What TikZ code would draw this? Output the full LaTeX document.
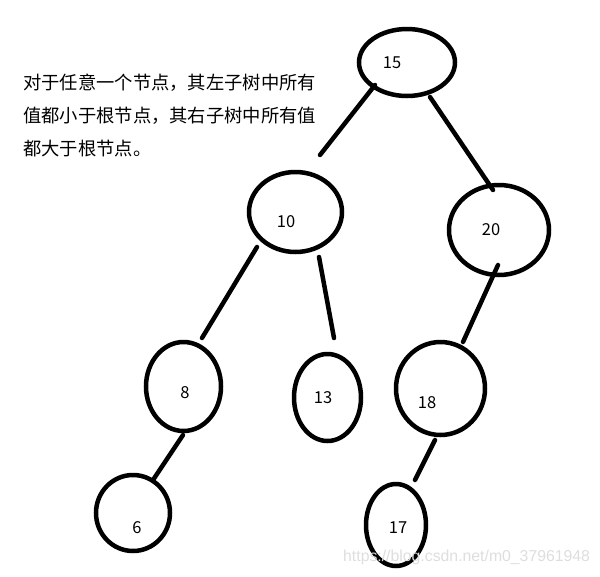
\documentclass[tikz,border=0pt]{standalone}
\usepackage{fontspec}
\usetikzlibrary{shapes.geometric}
\newfontfamily\cjk{Noto Sans CJK SC}
\newfontfamily\wmfont{Liberation Sans}
\begin{document}
\begin{tikzpicture}[x=1pt,y=-1pt,
  treenode/.style={ellipse,draw,line width=4.5pt,inner sep=0pt,outer sep=0pt},
  numlabel/.style={font=\cjk\fontsize{16.5}{18}\selectfont,inner sep=0pt},
  edge/.style={line width=4.5pt,line cap=round},
  note/.style={font=\cjk\fontsize{18.3}{22}\selectfont,anchor=west,inner sep=0pt},
  wm/.style={font=\wmfont\fontsize{15.8}{18}\selectfont,text=black!13,anchor=west,inner sep=0pt}]
\useasboundingbox[fill=white] (0,0) rectangle (600,576);

% ellipses
\node[treenode,minimum width=96pt,minimum height=67pt] (n15) at (407,62.5) {};
\node[treenode,minimum width=100pt,minimum height=90pt] (n20) at (499,230) {};
\node[treenode,minimum width=93pt,minimum height=80pt] (n10) at (295.5,212) {};
\node[treenode,minimum width=75pt,minimum height=89pt] (n8) at (183.5,386.5) {};
\node[treenode,minimum width=67pt,minimum height=87pt] (n13) at (327.5,397.5) {};
\node[treenode,minimum width=89pt,minimum height=93pt] (n18) at (440.5,388.5) {};
\node[treenode,minimum width=74pt,minimum height=76pt] (n6) at (133,513) {};
\node[treenode,minimum width=60pt,minimum height=82pt] (n17) at (396,525) {};

% labels
\node[numlabel] (t15) at (392,63) {15};
\node[numlabel] (t20) at (491,230) {20};
\node[numlabel] (t10) at (286,222) {10};
\node[numlabel] (t8) at (185,393) {8};
\node[numlabel] (t13) at (323,398) {13};
\node[numlabel] (t18) at (427,403) {18};
\node[numlabel] (t6) at (137,528) {6};
\node[numlabel] (t17) at (398,528) {17};

% edges
\draw[edge] ([shift={(-32,22.5)}]n15.center) -- ([shift={(24.5,-57)}]n10.center);
\draw[edge] ([shift={(23,34.5)}]n15.center) -- ([shift={(-6,-40)}]n20.center);
\draw[edge] ([shift={(-38.5,35)}]n10.center) -- ([shift={(18.5,-48.5)}]n8.center);
\draw[edge] ([shift={(23.5,45)}]n10.center) -- ([shift={(6.5,-59.5)}]n13.center);
\draw[edge] ([shift={(-1,35)}]n20.center) -- ([shift={(22.5,-46.5)}]n18.center);
\draw[edge] ([shift={(-0.5,48.5)}]n8.center) -- ([shift={(20,-33)}]n6.center);
\draw[edge] ([shift={(-5.5,51.5)}]n18.center) -- ([shift={(19,-45)}]n17.center);

% note
\node[note] (l1) at (23,83) {对于任意一个节点，其左子树中所有};
\node[note] (l2) at (23,116) {值都小于根节点，其右子树中所有值};
\node[note] (l3) at (23,149) {都大于根节点。};

% watermark
\node[wm] (wmk) at (343,557) {https://blog.csdn.net/m0\_37961948};
\end{tikzpicture}
\end{document}
